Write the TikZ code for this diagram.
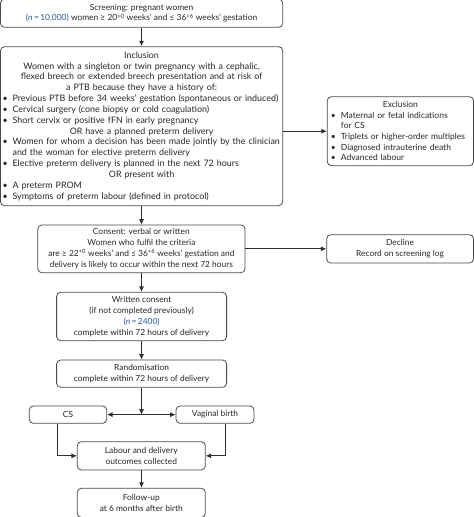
\documentclass[tikz,border=0pt]{standalone}
\usepackage{fontspec}
\setmainfont{Lato}
\usetikzlibrary{arrows.meta}
\definecolor{boxc}{HTML}{4A4A4A}
\definecolor{linec}{HTML}{2E2E2E}
\definecolor{nblue}{HTML}{2A5A9A}
\newcommand\fs{\fontsize{8.4}{10.85}\selectfont}
\newcommand\fl{\fontsize{8.9}{10.85}\selectfont\hyphenpenalty=10000\exhyphenpenalty=10000}
\newcommand\fe{\fontsize{8.5}{10.6}\selectfont\hyphenpenalty=10000\exhyphenpenalty=10000}
\newcommand\bul{\makebox[10pt][l]{•}}
\newcommand\ind{\hspace*{10pt}}
\newcommand\nn{\textit{n}\,=\,}
\begin{document}
\begin{tikzpicture}[x=1pt,y=-1pt,
  box/.style={draw=boxc, line width=0.8pt, rounded corners=4pt, inner sep=0pt, font=\fs, text=black!85},
  cbox/.style={box, align=center},
  arr/.style={draw=linec, line width=0.8pt, -{Latex[length=5.5pt,width=5pt]}}]
\useasboundingbox (0,0) rectangle (474,517);

\node[cbox, minimum width=282.2pt, minimum height=28.3pt] (scr) at (141.6,13.15)
  {Screening: pregnant women\\ {\color{nblue}(\nn10,000)} women ≥ 20\textsuperscript{+0} weeks’ and ≤ 36\textsuperscript{+6} weeks’ gestation};

\node[box, font=\fl, minimum width=282.2pt, minimum height=159pt, text width=278pt] (incl) at (141.6,126.2)
  {{\centering Inclusion\\ Women with a singleton or twin pregnancy with a cephalic,\\ flexed breech or extended breech presentation and at risk of\\ a PTB because they have a history of:\par}
   \raggedright
   \bul Previous PTB before 34 weeks’ gestation (spontaneous or induced)\\
   \bul Cervical surgery (cone biopsy or cold coagulation)\\
   \bul Short cervix or positive fFN in early pregnancy\par
   {\centering OR have a planned preterm delivery\par}
   \bul Women for whom a decision has been made jointly by the clinician\\
   \ind and the woman for elective preterm delivery\\
   \bul Elective preterm delivery is planned in the next 72 hours\par
   {\centering OR present with\par}
   \bul A preterm PROM\\
   \bul Symptoms of preterm labour (defined in protocol)\par};

\node[box, font=\fe, minimum width=146.2pt, minimum height=69pt, text width=139pt] (excl) at (400.4,131.2)
  {{\centering Exclusion\par}
   \raggedright
   \bul Maternal or fetal indications\\
   \ind for CS\\
   \bul Triplets or higher-order multiples\\
   \bul Diagnosed intrauterine death\\
   \bul Advanced labour\par};

\node[cbox, minimum width=207.3pt, minimum height=47.7pt] (cons) at (141.4,248.85)
  {Consent: verbal or written\\ Women who fulfil the criteria\\ are ≥ 22\textsuperscript{+0} weeks’ and ≤ 36\textsuperscript{+6} weeks’ gestation and\\ delivery is likely to occur within the next 72 hours};

\node[cbox, minimum width=146.8pt, minimum height=28.3pt] (decl) at (400.1,248.85)
  {Decline\\ Record on screening log};

\node[cbox, minimum width=170pt, minimum height=48.4pt] (wcon) at (141.6,316.5)
  {Written consent\\ (if not completed previously)\\ {\color{nblue}(\nn2400)}\\ complete within 72 hours of delivery};

\node[cbox, minimum width=170pt, minimum height=27.3pt] (rand) at (141.6,373.65)
  {Randomisation\\ complete within 72 hours of delivery};

\node[cbox, minimum width=77.4pt, minimum height=17.3pt] (cs) at (68,414.65) {CS};
\node[cbox, minimum width=78pt, minimum height=17.3pt] (vag) at (215,414.65) {Vaginal birth};

\node[cbox, minimum width=128pt, minimum height=28.3pt] (lab) at (141.3,455.85)
  {Labour and delivery\\ outcomes collected};

\node[cbox, minimum width=128pt, minimum height=29.2pt] (fol) at (141.3,502.9)
  {Follow-up\\ at 6 months after birth};

\coordinate (j) at (141.5,414.65);

\draw[arr] (scr.south -| 141.5,0) -- (incl.north -| 141.5,0);
\draw[arr] (excl.west -| incl.east) -- (excl.west);
\draw[arr] (incl.south -| 141.5,0) -- (cons.north -| 141.5,0);
\draw[arr] (cons.east) -- (decl.west);
\draw[arr] (cons.south -| 141.5,0) -- (wcon.north -| 141.5,0);
\draw[arr] (wcon.south -| 141.5,0) -- (rand.north -| 141.5,0);
\draw[arr] (rand.south -| 141.5,0) -- (j);
\draw[arr] (j) -- (cs.east);
\draw[arr] (j) -- (vag.west);
\draw[arr] ([xshift=-10.7pt]cs.south) |- (lab.west);
\draw[arr] ([xshift=10.7pt]vag.south) |- (lab.east);
\draw[arr] (lab.south -| 141.5,0) -- (fol.north -| 141.5,0);
\end{tikzpicture}
\end{document}
